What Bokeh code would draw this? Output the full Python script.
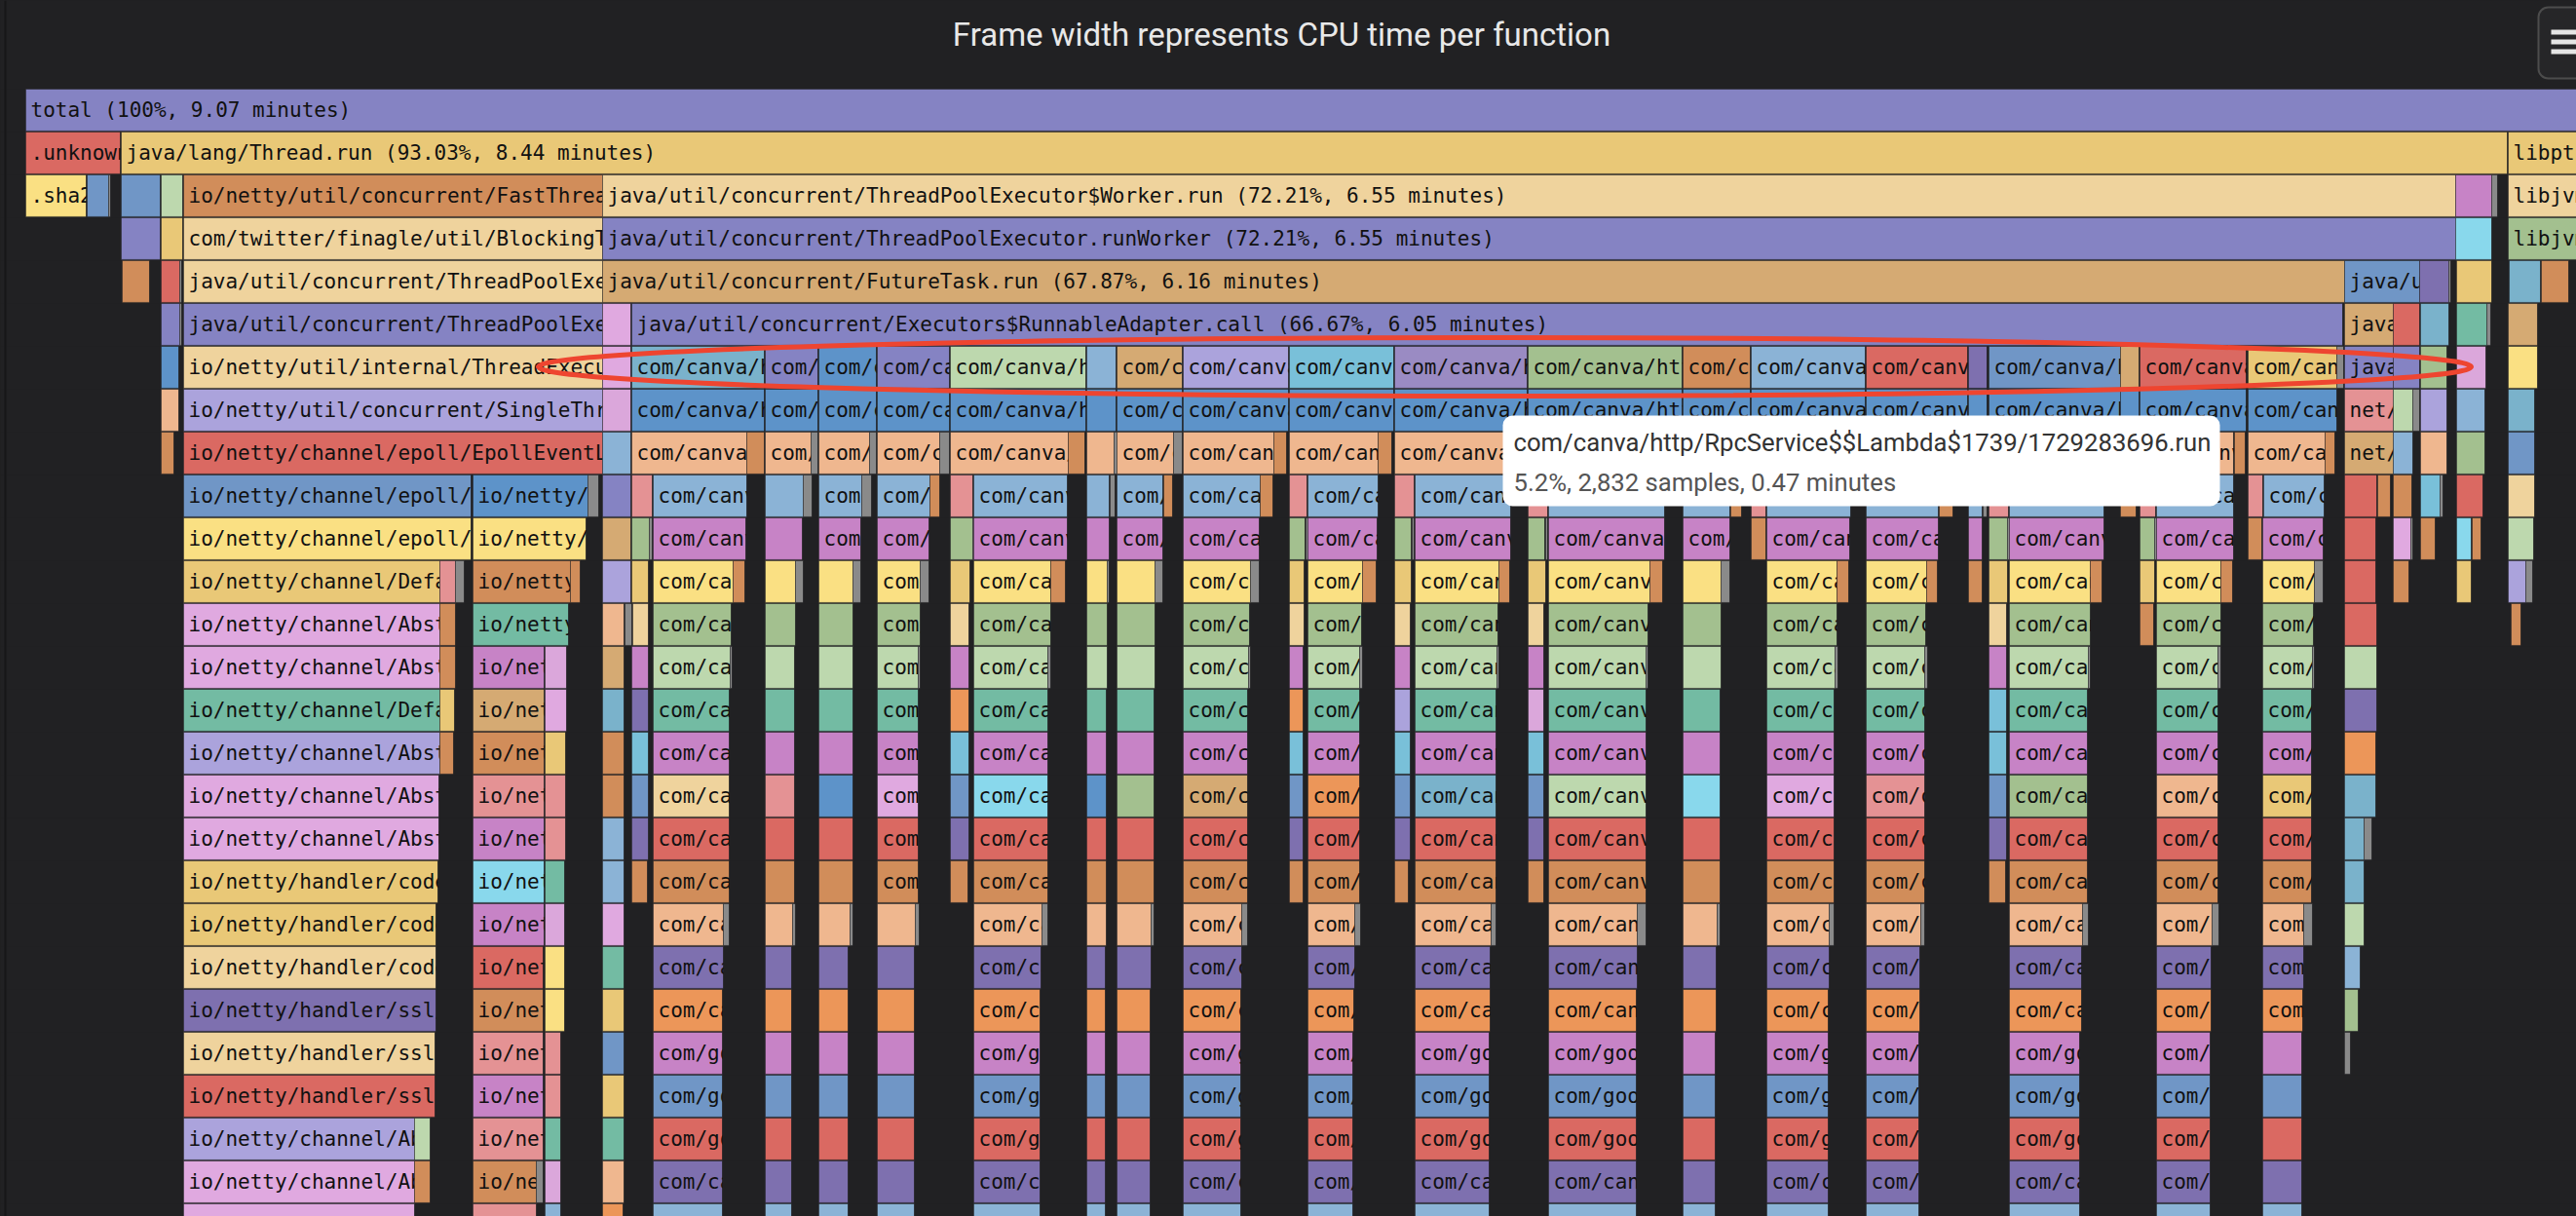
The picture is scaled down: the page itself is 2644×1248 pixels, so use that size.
import math
from bokeh.plotting import figure
from bokeh.embed import file_html
from bokeh.resources import INLINE
from bokeh.core.properties import value
from bokeh.models import Range1d, ColumnDataSource

BG = "#212123"
TITLE = "Frame width represents CPU time per function"
TOOLTIP_NAME = "com/canva/http/RpcService$$Lambda$1739/1729283696.run"
TOOLTIP_STATS = "5.2%, 2,832 samples, 0.47 minutes"
MONO = "DejaVu Sans Mono"

PALETTE = dict(
    a="#8583c3", E="#e9c877", r="#da6962", Y="#fae083", b="#7096c6", G="#bdd8ae",
    O="#d18d5a", W="#efd39d", T="#d5aa73", M="#e0a9e0", m="#dba7db", L="#aba3dc",
    B="#5d93c9", C="#7ab2cb", P="#efb78f", S="#8bb3d6", V="#c783c6", g="#a3c08f",
    t="#73bba3", K="#e49294", D="#7e70af", A="#ec9659", c="#89d8ec", n="#79c0d9",
    y="#8a8a8a", u="#9a8bc3",
)

CANVA = "com/canva/http/RpcService$$Lambda$1739/1729283696.run"
GOOGLE = "com/google/common/util/concurrent"
CTX = "io/netty/channel/AbstractChannelHandlerContext"
PIPE = "io/netty/channel/DefaultChannelPipeline"

# (start, end, colour[, label]) of the frames of each stack level
ROW_00 = [(26, 2660, "a", "total (100%, 9.07 minutes)")]
ROW_01 = [(26, 123, "r", ".unknown"), (124, 2573, "E", "java/lang/Thread.run (93.03%, 8.44 minutes)"),
          (2574, 2660, "E", "libpthread")]
ROW_02 = [(26, 88, "Y", ".sha256"), (89, 111, "b"), (111, 113, "y"), (124, 164, "b"), (165, 187, "G"),
          (188, 618, "O", "io/netty/util/concurrent/FastThreadLocalRunnable.run"),
          (618, 2520, "W", "java/util/concurrent/ThreadPoolExecutor$Worker.run (72.21%, 6.55 minutes)"),
          (2520, 2557, "V"), (2557, 2563, "y"), (2574, 2660, "W", "libjvm.so")]
ROW_03 = [(124, 164, "a"), (165, 187, "E"),
          (188, 618, "W", "com/twitter/finagle/util/BlockingTimeTrackingThreadFactory"),
          (618, 2520, "a", "java/util/concurrent/ThreadPoolExecutor.runWorker (72.21%, 6.55 minutes)"),
          (2520, 2557, "c"), (2574, 2660, "g", "libjvm.so")]
ROW_04 = [(125, 153, "O"), (165, 184, "r"), (184, 186, "y"),
          (188, 618, "W", "java/util/concurrent/ThreadPoolExecutor.runWorker"),
          (618, 2406, "T", "java/util/concurrent/FutureTask.run (67.87%, 6.16 minutes)"),
          (2406, 2483, "b", "java/util/concurrent"), (2483, 2513, "D"), (2513, 2515, "y"),
          (2521, 2557, "E"), (2575, 2607, "C"), (2608, 2636, "O")]
ROW_05 = [(165, 184, "a"), (184, 186, "y"),
          (188, 618, "a", "java/util/concurrent/ThreadPoolExecutor$Worker.run"),
          (618, 647, "M"),
          (648, 2404, "a", "java/util/concurrent/Executors$RunnableAdapter.call (66.67%, 6.05 minutes)"),
          (2406, 2456, "T", "java/util"), (2456, 2483, "r"), (2484, 2513, "C"),
          (2521, 2552, "t"), (2552, 2556, "y"), (2574, 2604, "T")]
ROW_06 = [(165, 183, "B"), (188, 618, "W", "io/netty/util/internal/ThreadExecutorMap$2.run"),
          (618, 647, "M"), (648, 784, "C"), (785, 839, "a"), (840, 899, "B"), (900, 974, "a"),
          (975, 1114, "G"), (1115, 1145, "S"), (1146, 1213, "T"), (1214, 1322, "L"),
          (1323, 1430, "n"), (1431, 1567, "u"), (1568, 1726, "g"), (1727, 1796, "O"),
          (1797, 1914, "S"), (1915, 2019, "r"), (2020, 2039, "D"), (2041, 2176, "b"),
          (2176, 2195, "T"), (2196, 2305, "r"), (2307, 2398, "E"), (2398, 2405, "y"),
          (2406, 2456, "a", "java/util"), (2456, 2483, "a"), (2484, 2511, "g"), (2521, 2551, "m"),
          (2574, 2604, "Y")]
ROW_07 = [(165, 183, "P"), (188, 618, "L", "io/netty/util/concurrent/SingleThreadEventExecutor$5.run"),
          (618, 647, "m"), (648, 784, "B"), (785, 839, "B"), (840, 899, "B"), (900, 974, "B"),
          (975, 1114, "B"), (1115, 1145, "B"), (1146, 1213, "B"), (1214, 1322, "B"),
          (1323, 1430, "B"), (1431, 1567, "B"), (1568, 1726, "B"), (1727, 1796, "B"),
          (1797, 1914, "B"), (1915, 2019, "B"), (2020, 2039, "B"), (2041, 2176, "B"),
          (2176, 2195, "B"), (2196, 2305, "B"), (2307, 2398, "B"),
          (2406, 2456, "K", "net/bytebuddy"), (2456, 2476, "G"), (2476, 2483, "y"), (2484, 2511, "L"),
          (2521, 2550, "S"), (2574, 2601, "C")]
ROW_08 = [(165, 178, "O"), (188, 618, "r", "io/netty/channel/epoll/EpollEventLoop.run"),
          (618, 647, "S"), (648, 766, "P"), (766, 784, "O"), (785, 832, "P"), (832, 839, "y"),
          (840, 892, "P"), (892, 899, "y"), (900, 964, "P"), (964, 974, "y"), (975, 1096, "P"),
          (1096, 1113, "O"), (1115, 1143, "P"), (1143, 1146, "y"), (1146, 1204, "P"), (1204, 1213, "y"),
          (1214, 1307, "P"), (1307, 1320, "O"), (1323, 1414, "P"), (1414, 1428, "O"),
          (1431, 1548, "P"), (1548, 1566, "O"), (1568, 1700, "P"), (1700, 1724, "O"),
          (1727, 1782, "P"), (1782, 1795, "y"), (1797, 1893, "P"), (1893, 1914, "O"),
          (1915, 2000, "P"), (2000, 2018, "O"), (2020, 2034, "P"), (2035, 2039, "y"),
          (2041, 2158, "P"), (2158, 2175, "O"), (2176, 2192, "P"), (2196, 2292, "P"), (2293, 2304, "O"),
          (2307, 2386, "P"), (2386, 2396, "O"), (2406, 2456, "T", "net/bytebuddy"), (2456, 2476, "S"),
          (2484, 2511, "P"), (2521, 2550, "g"), (2574, 2601, "b")]
ROW_09 = [(188, 483, "b", "io/netty/channel/epoll/AbstractEpollChannel"), (485, 603, "B", "io/netty/channel"),
          (603, 614, "y"), (618, 647, "a"), (648, 669, "K"), (670, 766, "S"), (785, 824, "S"), (824, 833, "y"),
          (840, 884, "S"), (884, 894, "y"), (900, 954, "S"), (954, 964, "O"), (975, 998, "K"), (999, 1095, "S"),
          (1115, 1138, "S"), (1139, 1144, "y"), (1146, 1193, "S"), (1194, 1203, "O"), (1214, 1293, "S"),
          (1293, 1306, "O"), (1323, 1341, "K"), (1342, 1414, "S"), (1431, 1451, "K"), (1452, 1550, "S"),
          (1568, 1588, "K"), (1589, 1708, "S"), (1727, 1775, "S"), (1776, 1787, "O"), (1797, 1812, "K"),
          (1813, 1899, "S"), (1915, 1989, "S"), (1990, 2004, "O"), (2020, 2034, "S"), (2035, 2039, "y"),
          (2041, 2061, "K"), (2062, 2159, "S"), (2176, 2192, "O"), (2196, 2212, "K"), (2213, 2292, "S"),
          (2307, 2322, "K"), (2323, 2385, "S"), (2406, 2439, "r"), (2440, 2453, "O"), (2456, 2475, "O"),
          (2484, 2504, "n"), (2504, 2507, "y"), (2521, 2548, "r"), (2574, 2601, "W")]
ROW_10 = [(188, 483, "Y", "io/netty/channel/epoll/AbstractEpollChannel"), (485, 601, "Y", "io/netty/channel"),
          (618, 647, "T"), (648, 666, "g"), (666, 669, "y"), (670, 765, "V"), (785, 823, "V"), (840, 883, "V"),
          (900, 953, "V"), (975, 998, "g"), (998, 999, "y"), (999, 1095, "V"), (1115, 1138, "V"), (1146, 1193, "V"),
          (1214, 1292, "V"), (1323, 1339, "g"), (1340, 1342, "y"), (1342, 1413, "V"), (1431, 1448, "g"),
          (1449, 1451, "y"), (1452, 1550, "V"), (1568, 1585, "g"), (1586, 1588, "y"), (1589, 1708, "V"),
          (1727, 1775, "V"), (1797, 1812, "O"), (1813, 1898, "V"), (1915, 1989, "V"), (2020, 2034, "V"),
          (2041, 2060, "g"), (2060, 2062, "y"), (2062, 2159, "V"), (2196, 2211, "g"), (2211, 2213, "y"),
          (2213, 2292, "V"), (2307, 2321, "O"), (2322, 2384, "V"), (2406, 2438, "r"), (2456, 2474, "M"),
          (2474, 2476, "y"), (2484, 2499, "O"), (2521, 2536, "c"), (2537, 2546, "O"), (2574, 2600, "G")]
ROW_11 = [(188, 451, "E", PIPE), (451, 467, "K"), (467, 476, "y"), (485, 585, "O", "io/netty/channel"), (585, 595, "O"),
          (618, 647, "L"), (648, 665, "E"), (670, 752, "Y"), (752, 764, "O"), (785, 816, "Y"), (816, 824, "y"),
          (840, 875, "Y"), (875, 883, "y"), (900, 944, "Y"), (944, 953, "y"), (975, 995, "E"), (999, 1078, "Y"),
          (1078, 1093, "O"), (1115, 1136, "Y"), (1136, 1138, "y"), (1146, 1185, "Y"), (1185, 1193, "y"),
          (1214, 1283, "Y"), (1283, 1292, "y"), (1323, 1338, "E"), (1342, 1398, "Y"), (1398, 1412, "O"),
          (1431, 1448, "E"), (1452, 1538, "Y"), (1538, 1549, "O"), (1568, 1586, "E"), (1589, 1693, "Y"),
          (1693, 1706, "O"), (1727, 1766, "Y"), (1766, 1775, "y"), (1813, 1885, "Y"), (1885, 1897, "O"),
          (1915, 1977, "Y"), (1977, 1988, "O"), (2020, 2034, "O"), (2041, 2060, "E"), (2062, 2145, "Y"),
          (2145, 2157, "O"), (2196, 2211, "E"), (2213, 2279, "Y"), (2279, 2291, "O"), (2322, 2375, "Y"),
          (2375, 2384, "y"), (2406, 2438, "r"), (2456, 2472, "O"), (2521, 2536, "E"), (2574, 2592, "L"),
          (2592, 2599, "y")]
ROW_12 = [(188, 451, "M", CTX), (451, 467, "O"), (485, 583, "t", "io/netty/channel"), (618, 640, "P"),
          (641, 648, "y"), (649, 665, "W"), (670, 750, "g"), (785, 816, "g"), (840, 875, "g"), (900, 944, "g"),
          (975, 994, "W"), (999, 1078, "g"), (1115, 1136, "g"), (1146, 1185, "g"), (1214, 1282, "g"),
          (1323, 1338, "W"), (1342, 1397, "g"), (1431, 1447, "W"), (1452, 1537, "g"), (1568, 1584, "W"),
          (1589, 1691, "g"), (1727, 1766, "g"), (1813, 1885, "g"), (1915, 1976, "g"), (2041, 2059, "W"),
          (2062, 2145, "g"), (2196, 2210, "O"), (2213, 2279, "g"), (2322, 2374, "g"), (2406, 2439, "r"),
          (2577, 2587, "O")]
TOP_ROWS = [ROW_00, ROW_01, ROW_02, ROW_03, ROW_04, ROW_05, ROW_06, ROW_07, ROW_08, ROW_09, ROW_10, ROW_11, ROW_12]

# columns of the deep part: (start, first level, ends, colours, side frames by level)
MAIN_LABELS = [CTX, PIPE, CTX, CTX, CTX, "io/netty/handler/codec/ByteToMessageDecoder",
               "io/netty/handler/codec/ByteToMessageDecoder", "io/netty/handler/codec/ByteToMessageDecoder",
               "io/netty/handler/ssl/SslHandler", "io/netty/handler/ssl/SslHandler", "io/netty/handler/ssl/SslHandler",
               "io/netty/channel/AbstractChannel", "io/netty/channel/AbstractChannel", "io/netty/channel/AbstractChannel"]
MAIN_ENDS = [451, 451, 451, 450, 450, 449, 447, 447, 447, 446, 446, 425, 425, 425]
MAIN_COLORS = "MtLMMEEWDWrLMM"
MAIN_SIDES = {13: (467, "O"), 14: (466, "E"), 15: (465, "O"), 24: (441, "G"), 25: (441, "O")}

COLUMNS = [
    (485, 13, [558, 558, 558, 558, 558, 558, 558, 557, 557, 557, 557, 557, 550, 550], "VTOKVcVrOKVKOK", {25: (557, "y")}),
    (559, 13, [581, 581, 580, 580, 580, 579, 579, 579, 579, 575, 575, 575, 575, 575], "mMEKKtmYYKKtmS", {}),
    (618, 13, [640, 640, 640, 640, 640, 640, 640, 640, 640, 640, 640, 640, 640, 639], "TCOOSSMtEbEtPA", {}),
    (648, 13, [665, 665, 665, 665, 665, 664], "VDnbDO", {}),
    (670, 13, [749, 748, 748, 748, 748, 748, 742, 742, 741, 741, 741, 741, 741, 741], "GtVWrOPDAVbrDS", {13: (751, "y"), 19: (748, "y")}),
    (785, 13, [815, 815, 815, 815, 815, 815, 813, 812, 812, 812, 812, 812, 812, 812], "GtVKrOPDAVbrDS", {19: (816, "y")}),
    (840, 13, [875, 875, 875, 875, 875, 875, 872, 870, 870, 870, 870, 870, 870, 870], "GtVBrOPDAVbrDS", {19: (875, "y")}),
    (900, 13, [942, 942, 942, 942, 942, 942, 939, 938, 938, 938, 938, 938, 938, 938], "GtVMrOPDAVbrDS", {13: (944, "y"), 19: (943, "y")}),
    (975, 13, [994, 994, 994, 994, 994, 993], "VAnbDO", {}),
    (999, 13, [1075, 1075, 1075, 1075, 1075, 1075, 1069, 1068, 1067, 1067, 1067, 1067, 1067, 1067], "GtVcrOPDAVbrDS", {13: (1078, "y"), 19: (1075, "y")}),
    (1115, 13, [1136, 1135, 1135, 1135, 1135, 1135, 1135, 1134, 1134, 1134, 1134, 1134, 1134, 1134], "GtVBrOPDAVbrDS", {}),
    (1146, 13, [1185, 1184, 1184, 1184, 1184, 1184, 1181, 1181, 1180, 1180, 1180, 1180, 1180, 1180], "GtVgrOPDAVbrDS", {19: (1184, "y")}),
    (1214, 13, [1281, 1280, 1280, 1280, 1280, 1280, 1274, 1274, 1273, 1273, 1273, 1273, 1273, 1273], "GtVTrOPDAVbrDS", {13: (1283, "y"), 19: (1280, "y")}),
    (1323, 13, [1337, 1337, 1337, 1337, 1337, 1337], "VAnbDO", {}),
    (1342, 13, [1395, 1395, 1395, 1395, 1395, 1395, 1390, 1390, 1389, 1388, 1388, 1388, 1388, 1388], "GtVArOPDAVbrDS", {13: (1398, "y"), 19: (1396, "y")}),
    (1431, 13, [1447, 1447, 1447, 1447, 1447, 1445], "VLnbDO", {}),
    (1452, 13, [1536, 1535, 1535, 1535, 1535, 1535, 1530, 1529, 1529, 1528, 1528, 1528, 1528, 1528], "GtVCrOPDAVbrDS", {13: (1538, "y"), 19: (1535, "y")}),
    (1568, 13, [1584, 1584, 1584, 1584, 1584, 1584], "VmnbDO", {}),
    (1589, 13, [1689, 1689, 1689, 1689, 1689, 1689, 1680, 1680, 1679, 1679, 1679, 1679, 1679, 1679], "GtVGrOPDAVbrDS", {13: (1691, "y"), 19: (1689, "y")}),
    (1727, 13, [1766, 1765, 1765, 1765, 1765, 1765, 1762, 1761, 1761, 1760, 1760, 1760, 1760, 1760], "GtVcrOPDAVbrDS", {19: (1765, "y")}),
    (1813, 13, [1883, 1882, 1882, 1882, 1882, 1882, 1877, 1877, 1876, 1876, 1876, 1876, 1876, 1876], "GtVMrOPDAVbrDS", {13: (1886, "y"), 19: (1882, "y")}),
    (1915, 13, [1975, 1975, 1975, 1975, 1975, 1975, 1971, 1970, 1970, 1969, 1969, 1969, 1969, 1969], "GtVKrOPDAVbrDS", {13: (1978, "y"), 19: (1975, "y")}),
    (2041, 13, [2059, 2059, 2059, 2059, 2059, 2058], "VnnbDO", {}),
    (2062, 13, [2143, 2142, 2142, 2142, 2142, 2142, 2137, 2136, 2136, 2134, 2134, 2134, 2134, 2134], "GtVgrOPDAVbrDS", {13: (2145, "y"), 19: (2143, "y")}),
    (2213, 13, [2276, 2276, 2276, 2276, 2276, 2276, 2270, 2269, 2269, 2268, 2268, 2268, 2268, 2268], "GtVPrOPDAVbrDS", {13: (2279, "y"), 19: (2277, "y")}),
    (2322, 13, [2373, 2372, 2372, 2372, 2372, 2372, 2364, 2364, 2363, 2362, 2362, 2362, 2362, 2362], "GtVErOPDAVbrDS", {13: (2375, "y"), 19: (2373, "y")}),
    (2406, 13, [2439, 2439, 2438, 2438, 2426, 2426, 2426, 2422, 2420, 2412], "GDACCCGSgy", {17: (2434, "y")}),
]
ROW_COUNT = 27
SHORT_B = "io/netty/channel"

rows = [list(r) for r in TOP_ROWS] + [[] for _ in range(ROW_COUNT - len(TOP_ROWS))]
for i, (end, c, name) in enumerate(zip(MAIN_ENDS, MAIN_COLORS, MAIN_LABELS)):
    rows[13 + i].append((188, end, c, name))
    if 13 + i in MAIN_SIDES:
        rows[13 + i].append((end, *MAIN_SIDES[13 + i]))
for x0, first, ends, colors, sides in COLUMNS:
    for i, (end, c) in enumerate(zip(ends, colors)):
        lv = first + i
        lab = SHORT_B if x0 == 485 else None
        rows[lv].append((x0, end, c, lab))
        if lv in sides:
            rows[lv].append((end, *sides[lv]))

def default_label(level):
    return GOOGLE if level in (22, 23, 24) else CANVA

CHAR_W = 12.6
PAD = 5
XMIN, XMAX = 0, 2644
cells = []
for level, row in enumerate(rows):
    row = sorted(row, key=lambda f: f[0])
    cur = XMIN
    out = []
    for f in row:
        x0, x1, c = f[:3]
        lab = f[3] if len(f) > 3 else None
        if x0 > cur:
            out.append((cur, x0, BG, None, False))
        w = x1 - x0
        if w >= 41:
            if lab is None and level >= 6:
                lab = default_label(level)
            if lab is not None:
                lab = lab[:math.ceil((min(x1, XMAX) - x0 - PAD) / CHAR_W)]
        else:
            lab = None
        out.append((x0, x1, PALETTE[c], lab, True))
        cur = max(cur, x1)
    if cur < XMAX:
        out.append((cur, XMAX, BG, None, False))
    cells.append(out)

def ry(py):
    return (py - 91) / 44

p = figure(width=2644, height=1248, output_backend="svg", toolbar_location=None,
           x_range=Range1d(XMIN, XMAX), y_range=Range1d(ry(1248), ry(0)),
           background_fill_color=BG, border_fill_color=BG, min_border=0,
           outline_line_color=None)
p.axis.visible = False
p.grid.visible = False

ROW_H = 1 - 1.1 / 44
for step in range(max(len(o) for o in cells)):
    d = dict(l=[], r=[], t=[], b=[], c=[], a=[])
    tx = dict(x=[], y=[], s=[])
    for level, o in enumerate(cells):
        if step >= len(o):
            continue
        x0, x1, col, lab, is_frame = o[step]
        d["l"].append(x0); d["r"].append(x1)
        d["t"].append(level); d["b"].append(level + ROW_H if is_frame else level + 1)
        d["c"].append(col); d["a"].append(0.45 if is_frame else 0)
        if lab:
            tx["x"].append(x0); tx["y"].append(level + 0.49); tx["s"].append(lab)
    p.quad(left="l", right="r", top="t", bottom="b", fill_color="c", line_color=BG, line_alpha="a",
           line_width=1, source=ColumnDataSource(d))
    if tx["x"]:
        p.text(x="x", y="y", text="s", source=ColumnDataSource(tx), text_font=value(MONO),
               text_font_size="21px", text_color="#111111", text_baseline="middle", text_align="left",
               x_offset=PAD)

# left edge of the page
p.quad(left=[4], right=[6], top=[ry(0)], bottom=[ry(1248)], fill_color="#171718", line_color=None)

# the hand-drawn marker around one stack level
p.ellipse(x=[1544], y=[ry(376)], width=[1984], height=[60 / 44], fill_color=None,
          line_color="#ee4530", line_width=5)

# tooltip
p.quad(left=[1542], right=[2278], top=[ry(426)], bottom=[ry(519)], fill_color="#ffffff", line_color=None,
       border_radius=10)
p.text(x=[1553], y=[ry(453)], text=[TOOLTIP_NAME], text_font=value("Roboto"), text_font_size="25.7px",
       text_color="#333333", text_baseline="middle")
p.text(x=[1553], y=[ry(494)], text=[TOOLTIP_STATS], text_font=value("Roboto"), text_font_size="25.7px",
       text_color="#555555", text_baseline="middle")

# title
p.text(x=[1315], y=[ry(35)], text=[TITLE], text_font=value("Roboto"), text_font_size="33px",
       text_color="#e8e8e8", text_baseline="middle", text_align="center")

# menu button
p.quad(left=[2605], right=[2680], top=[ry(7)], bottom=[ry(80)], fill_color="#262628", line_color="#4c4c4c",
       line_width=2, border_radius=10)
p.quad(left=[2618, 2618, 2618], right=[2660, 2660, 2660], top=[ry(30), ry(40), ry(50)],
       bottom=[ry(35), ry(45), ry(55)], fill_color="#e5e5e5", line_color=None)

html = file_html(p, INLINE)
html = html.replace("<head>", "<head><style>html,body{background:%s;overflow:hidden;margin:0;padding:0}</style>" % BG, 1)
open("out.html", "w").write(html)
